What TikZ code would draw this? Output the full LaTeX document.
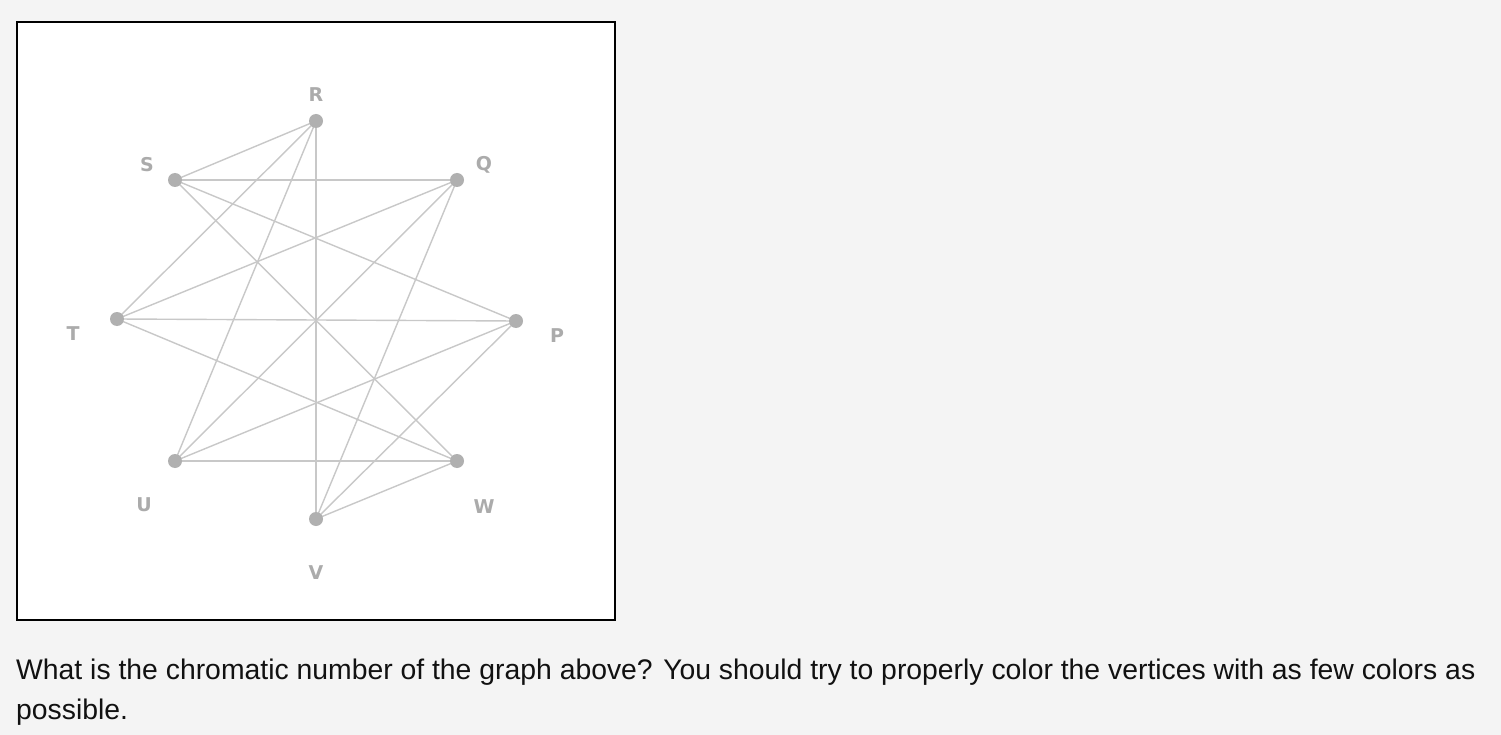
\documentclass[tikz,border=0pt]{standalone}
\usepackage{fontspec}
\setmainfont{Liberation Sans}
\newfontfamily\lblfont{DejaVu Sans}
\definecolor{bgc}{HTML}{F4F4F4}
\definecolor{edgec}{HTML}{C8C8C8}
\definecolor{dotc}{HTML}{B0B0B0}
\definecolor{lblc}{HTML}{ABABAB}
\definecolor{txtc}{HTML}{111111}
\tikzset{
  vtx/.style={circle,fill=dotc,inner sep=0pt,minimum size=14pt},
  vlabel/.style={font=\lblfont\bfseries\fontsize{19}{19}\selectfont,text=lblc,inner sep=0pt},
  edge/.style={draw=edgec,line width=1.4pt},
  frame/.style={draw=black,line width=2pt,fill=white},
  qtext/.style={font=\fontsize{28.35}{34}\selectfont,text=txtc,inner sep=0pt,anchor=base west}
}
\begin{document}
\begin{tikzpicture}[x=1pt,y=-1pt]
\fill[bgc] (0,0) rectangle (1501,735);
\useasboundingbox (0,0) rectangle (1501,735);
\draw[frame] (17,22) rectangle (615,620);
% edges, between vertex positions
\foreach \n/\x/\y in {R/316/121,S/175/180,Q/457/180,T/117/319,P/516/321,U/175/461,W/457/461,V/316/519}
  \coordinate (\n) at (\x,\y);
\foreach \a/\b in {R/S,R/T,R/U,R/V,S/Q,S/W,S/P,Q/T,Q/U,Q/V,T/P,T/W,P/U,P/V,U/W,W/V}
  \draw[edge] (\a) -- (\b);
% vertices
\foreach \n in {R,S,Q,T,P,U,W,V}
  \node[vtx] (\n dot) at (\n) {};
% labels
\node[vlabel] (lR) at (316,95) {R};
\node[vlabel] (lS) at (147,165) {S};
\node[vlabel] (lQ) at (484,165) {Q};
\node[vlabel] (lT) at (73,334) {T};
\node[vlabel] (lP) at (557,336) {P};
\node[vlabel] (lU) at (144,505) {U};
\node[vlabel] (lW) at (484,507) {W};
\node[vlabel] (lV) at (316,573) {V};
% question text
\node[qtext] (q1) at (16,679) {What is the chromatic number of the graph above? You should try to properly color the vertices with as few colors as};
\node[qtext] (q2) at (16,719) {possible.};
\end{tikzpicture}
\end{document}
